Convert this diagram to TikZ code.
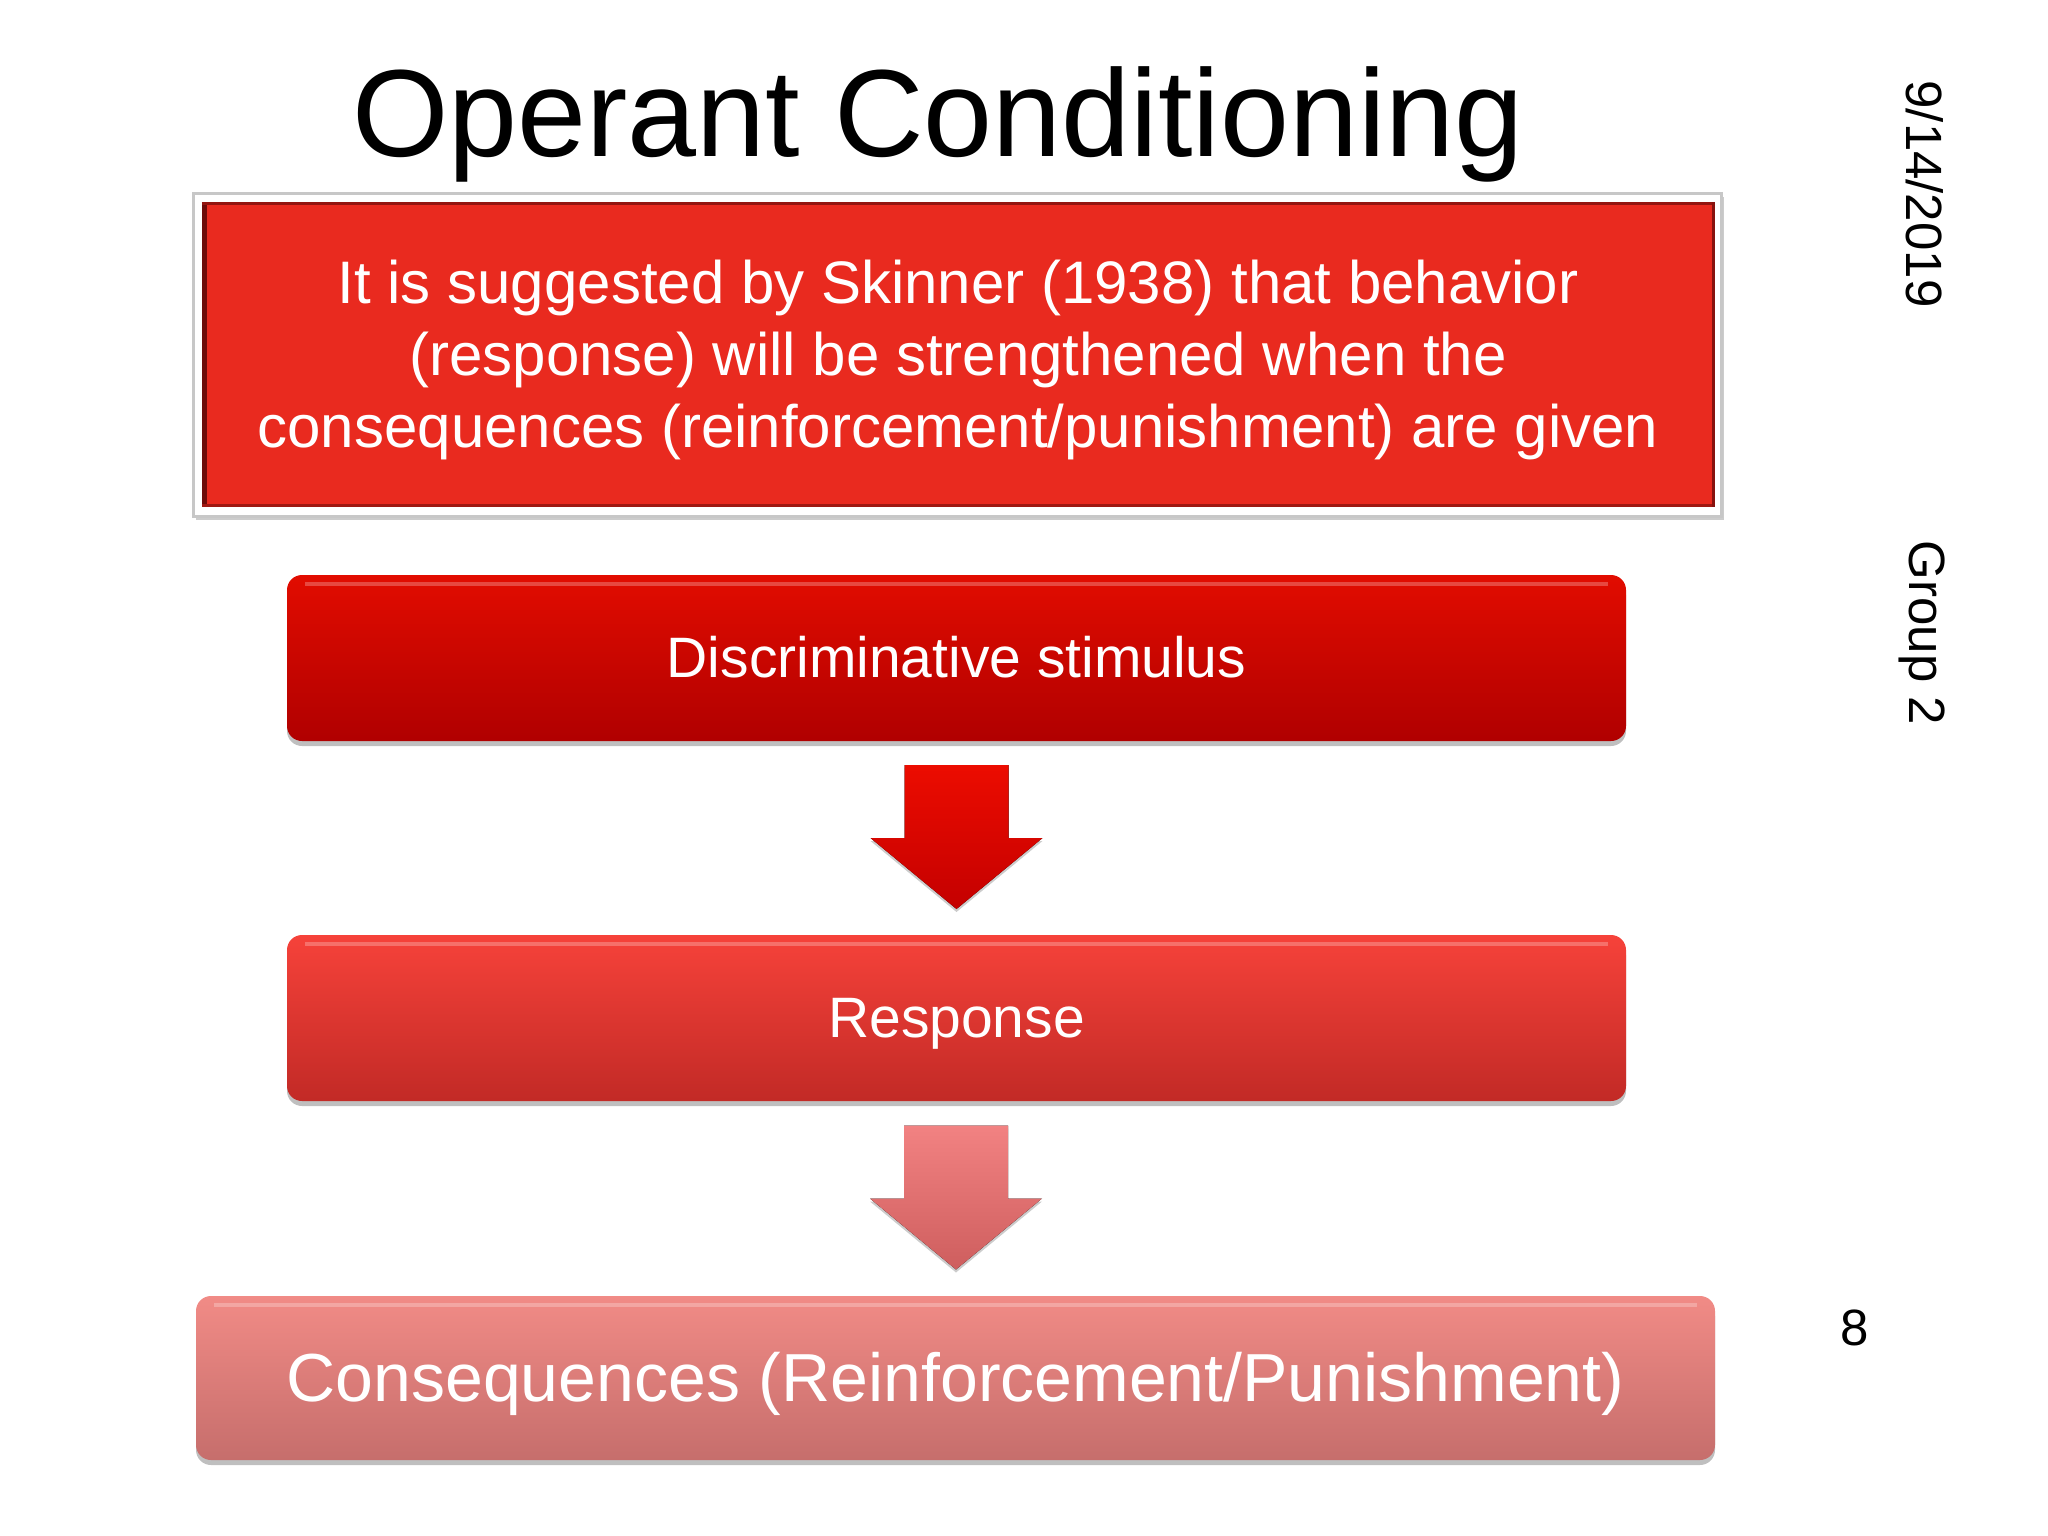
\documentclass[tikz,border=0pt]{standalone}
\usepackage{fontspec}
\setmainfont{Liberation Sans}
\usetikzlibrary{shadows,calc}
\definecolor{introred}{RGB}{233,42,31}
\definecolor{introdark}{RGB}{110,12,10}
\definecolor{bOneTop}{RGB}{226,12,0}
\definecolor{bOneBot}{RGB}{176,0,0}
\definecolor{bTwoTop}{RGB}{246,66,58}
\definecolor{bTwoBot}{RGB}{194,42,38}
\definecolor{bThrTop}{RGB}{241,139,134}
\definecolor{bThrBot}{RGB}{198,110,108}
\definecolor{aOneTop}{RGB}{236,12,0}
\definecolor{aOneBot}{RGB}{196,0,0}
\definecolor{aTwoTop}{RGB}{242,130,130}
\definecolor{aTwoBot}{RGB}{206,94,94}
\begin{document}
\begin{tikzpicture}[x=1pt,y=-1pt,
  flowbox/.style={rounded corners=15pt, inner sep=0pt, text=white, minimum height=166pt,
     text height=43pt, text depth=5pt,
     drop shadow={shadow xshift=0pt, shadow yshift=-5pt, opacity=0.25, fill=black}},
  sidetext/.style={font=\fontsize{51}{60}\selectfont, text=black, rotate=-90, inner sep=0pt}
]
\useasboundingbox[fill=white] (0,0) rectangle (2048,1536);

% title
\node[anchor=base, inner sep=0pt, font=\fontsize{124}{130}\selectfont] (title) at (938,157) {Operant Conditioning};

% intro box
\draw[draw=black!22, line width=3pt, fill=white,
  drop shadow={shadow xshift=3pt, shadow yshift=-4pt, opacity=0.2, fill=black}] (193,193) rectangle (1721,516);
\node[fill=introred, minimum width=1513pt, minimum height=305pt, inner sep=0pt] (introbox) at (958.5,354.5) {};
\draw[introdark, line width=5pt] ($(introbox.north west)+(2.5,2)$) -- ($(introbox.south west)+(2.5,-2)$);
\draw[introdark!70!introred, line width=3pt] ($(introbox.north west)+(0,1.5)$) -- ($(introbox.north east)+(0,1.5)$);
\draw[introdark!60!introred, line width=3pt] ($(introbox.south west)+(0,-1.5)$) -- ($(introbox.south east)+(0,-1.5)$);
\draw[introdark!80!introred, line width=3pt] ($(introbox.north east)+(-1.5,0)$) -- ($(introbox.south east)+(-1.5,0)$);
\node[align=center, text=white, inner sep=0pt, font=\fontsize{60}{72}\selectfont] (intro) at (958,360)
  {It is suggested by Skinner (1938) that behavior\\(response) will be strengthened when the\\consequences (reinforcement/punishment) are given};

% flow boxes
\node[flowbox, minimum width=1339pt, top color=bOneTop, bottom color=bOneBot, font=\fontsize{57}{64}\selectfont]
  (stim) at (956.5,658) {Discriminative stimulus};
\node[flowbox, minimum width=1339pt, top color=bTwoTop, bottom color=bTwoBot, font=\fontsize{57}{64}\selectfont]
  (resp) at (956.5,1018) {Response};
\node[flowbox, minimum width=1519pt, minimum height=164pt, text height=51pt, text depth=5pt,
  top color=bThrTop, bottom color=bThrBot, font=\fontsize{68}{76}\selectfont]
  (cons) at (955.5,1378) {Consequences (Reinforcement/Punishment)};

% glossy top highlights
\foreach \b in {stim,resp,cons}{
  \draw[white, opacity=0.25, line width=4pt] ($(\b.north west)+(18,9)$) -- ($(\b.north east)+(-18,9)$);
}

% block arrows
\coordinate (aone) at ($(stim.south)!0.5!(resp.north)$);
\coordinate (atwo) at ($(resp.south)!0.5!(cons.north)$);
\foreach \c/\t/\bt in {aone/aOneTop/aOneBot, atwo/aTwoTop/aTwoBot}{
  \fill[top color=\t, bottom color=\bt, drop shadow={shadow xshift=0pt, shadow yshift=-3pt, opacity=0.2, fill=black}]
    ($(\c)+(-52,-73)$) -- ($(\c)+(52,-73)$) -- ($(\c)+(52,0)$) -- ($(\c)+(86,0)$)
    -- ($(\c)+(0,71)$) -- ($(\c)+(-86,0)$) -- ($(\c)+(-52,0)$) -- cycle;
}

% side texts
\node[sidetext] (date) at (1925,194) {9/14/2019};
\node[sidetext] (group) at (1922,633) {Group 2};
\node[font=\fontsize{51}{60}\selectfont, inner sep=0pt] (page) at (1855,1328) {8};
\end{tikzpicture}
\end{document}
